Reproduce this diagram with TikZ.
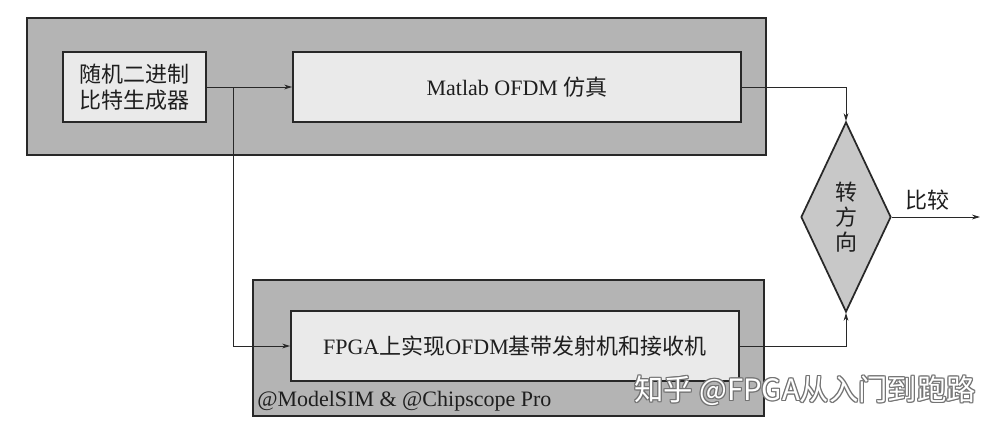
\documentclass[tikz,border=0pt]{standalone}
\usepackage{fontspec}
\setmainfont{Liberation Serif}
\newfontfamily\cjk{Noto Sans CJK SC}
\usetikzlibrary{shapes.geometric,arrows.meta}
\definecolor{outerg}{RGB}{180,180,180}
\definecolor{innerg}{RGB}{234,234,234}
\definecolor{diag}{RGB}{200,200,200}
\definecolor{lineg}{RGB}{40,40,40}
\definecolor{txtg}{RGB}{30,30,30}
\newcommand{\zh}[1]{{\cjk #1}}
\begin{document}
\begin{tikzpicture}[x=0.75pt,y=-0.75pt,
  outerbox/.style={draw=lineg,line width=1.2pt,fill=outerg,inner sep=0pt},
  innerbox/.style={draw=lineg,line width=1.3pt,fill=innerg,inner sep=0pt,text=txtg,
    font=\fontsize{16.5pt}{20pt}\selectfont, align=center},
  conn/.style={draw=lineg,line width=0.7pt},
  arr/.style={conn,-{Stealth[length=6pt,width=3.6pt]}},
  lbl/.style={text=txtg,font=\fontsize{16.5pt}{20pt}\selectfont,inner sep=0pt}
]
\useasboundingbox (0,0) rectangle (1004,432);
\fill[white] (0,0) rectangle (1004,432);

% outer shaded groups
\node[outerbox, minimum width=554.25pt, minimum height=102.75pt] (topgrp) at (396.5,86.5) {};
\node[outerbox, minimum width=383.25pt, minimum height=102pt] (botgrp) at (508.5,348) {};

% inner boxes
\node[innerbox, minimum width=107.25pt, minimum height=52.5pt] (rand) at (134.5,87)
  {\zh{随机二进制}\\[-0.5pt]\zh{比特生成器}};
\node[innerbox, minimum width=336pt, minimum height=52.5pt] (matlab) at (517,87)
  {Matlab OFDM \zh{仿真}};
\node[innerbox, minimum width=336pt, minimum height=52.5pt] (fpga) at (515,346)
  {FPGA\zh{上实现}OFDM\zh{基带发射机和接收机}};

% diamond
\node[diamond, draw=lineg, line width=1.3pt, fill=diag, aspect=0.5, inner sep=0pt,
  minimum width=67.5pt, minimum height=142.5pt, align=center, text=txtg,
  font=\fontsize{16.5pt}{19pt}\selectfont] (dia) at (846,217)
  {\zh{转}\\\zh{方}\\\zh{向}};

% label in bottom group
\node[lbl, anchor=west] (tools) at (257,401) {@ModelSIM \& @Chipscope Pro};

% connectors
\coordinate (br) at (233,87);
\coordinate (out) at (980,217);
\draw[arr] (rand.east) -- (matlab.west);
\draw[arr] (br) |- (fpga.west);
\draw[arr] (matlab.east) -| (dia.north);
\draw[arr] (fpga.east) -| (dia.south);
\draw[arr] (dia.east) -- node[lbl, pos=0.4, above=5pt] (cmp) {\zh{比较}} (out);

% watermark
\foreach \dx/\dy [count=\i] in {1/0,-1/0,0/1,0/-1,1/1,-1/-1,1/-1,-1/1}{
  \node[text=black!55, font=\cjk\fontsize{22pt}{24pt}\selectfont, inner sep=0pt]
    (wms\i) at (805+\dx,391+\dy) {知乎 @FPGA从入门到跑路};
}
\node[text=white, font=\cjk\fontsize{22pt}{24pt}\selectfont, inner sep=0pt]
  (wm) at (805,391) {知乎 @FPGA从入门到跑路};
\end{tikzpicture}
\end{document}
